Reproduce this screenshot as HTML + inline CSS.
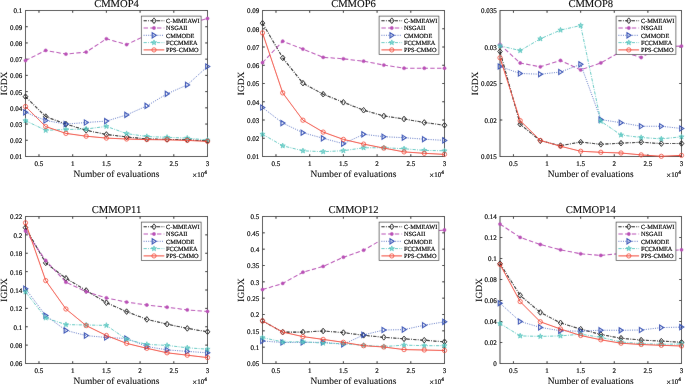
<!DOCTYPE html>
<html><head><meta charset="utf-8"><title>IGDX comparison</title>
<style>
html,body{margin:0;padding:0;background:#fff;}
body{width:685px;height:384px;overflow:hidden;}
svg{display:block;}
text{font-family:'Liberation Serif', 'Times New Roman', serif;fill:#111;stroke:#111;stroke-width:0.24px;text-rendering:geometricPrecision;}
.tk{font-size:7.0px;stroke-width:0.2px;}
.lb{font-size:9.4px;stroke-width:0.1px;}
.tt{font-size:10.6px;stroke-width:0.12px;}
.lg{font-size:6.3px;stroke-width:0.18px;}
</style></head><body>
<svg width="685" height="384" viewBox="0 0 685 384">
<defs><filter id="bl" x="0" y="0" width="100%" height="100%" filterUnits="userSpaceOnUse"><feConvolveMatrix order="3" kernelMatrix="0.0098 0.0366 0.0098 0.0366 0.8143 0.0366 0.0098 0.0366 0.0098" edgeMode="duplicate" preserveAlpha="true"/></filter></defs>
<rect width="685" height="384" fill="#fff"/>
<g filter="url(#bl)">
<rect width="685" height="384" fill="#fff"/>
<g><clipPath id="cCMMOP4"><rect x="21.5" y="6.5" width="190" height="154"/></clipPath><rect x="25.5" y="10.5" width="182" height="146" fill="none" stroke="#3d3d3d" stroke-width="1.0"/><path d="M38.98 156.5v-2.3M38.98 10.5v2.3M72.69 156.5v-2.3M72.69 10.5v2.3M106.39 156.5v-2.3M106.39 10.5v2.3M140.09 156.5v-2.3M140.09 10.5v2.3M173.8 156.5v-2.3M173.8 10.5v2.3M207.5 156.5v-2.3M207.5 10.5v2.3M25.5 156.5h2.3M207.5 156.5h-2.3M25.5 140.28h2.3M207.5 140.28h-2.3M25.5 124.06h2.3M207.5 124.06h-2.3M25.5 107.83h2.3M207.5 107.83h-2.3M25.5 91.61h2.3M207.5 91.61h-2.3M25.5 75.39h2.3M207.5 75.39h-2.3M25.5 59.17h2.3M207.5 59.17h-2.3M25.5 42.94h2.3M207.5 42.94h-2.3M25.5 26.72h2.3M207.5 26.72h-2.3M25.5 10.5h2.3M207.5 10.5h-2.3" stroke="#262626" stroke-width="1.0" fill="none"/><g clip-path="url(#cCMMOP4)"><polyline points="25.5,96.7 45.72,116.6 65.94,124.1 86.17,130.3 106.39,134.5 126.61,136.9 146.83,139 167.06,139.3 187.28,139.8 207.5,140.9" fill="none" stroke="#000000" stroke-width="1.05" stroke-dasharray="3.2 1.3 0.9 1.3" stroke-linejoin="round"/><path d="M25.5 93.9L27.8 96.7L25.5 99.5L23.2 96.7Z" fill="none" stroke="#000000" stroke-width="0.95"/><path d="M45.72 113.8L48.02 116.6L45.72 119.4L43.42 116.6Z" fill="none" stroke="#000000" stroke-width="0.95"/><path d="M65.94 121.3L68.24 124.1L65.94 126.9L63.64 124.1Z" fill="none" stroke="#000000" stroke-width="0.95"/><path d="M86.17 127.5L88.47 130.3L86.17 133.1L83.87 130.3Z" fill="none" stroke="#000000" stroke-width="0.95"/><path d="M106.39 131.7L108.69 134.5L106.39 137.3L104.09 134.5Z" fill="none" stroke="#000000" stroke-width="0.95"/><path d="M126.61 134.1L128.91 136.9L126.61 139.7L124.31 136.9Z" fill="none" stroke="#000000" stroke-width="0.95"/><path d="M146.83 136.2L149.13 139L146.83 141.8L144.53 139Z" fill="none" stroke="#000000" stroke-width="0.95"/><path d="M167.06 136.5L169.36 139.3L167.06 142.1L164.76 139.3Z" fill="none" stroke="#000000" stroke-width="0.95"/><path d="M187.28 137L189.58 139.8L187.28 142.6L184.98 139.8Z" fill="none" stroke="#000000" stroke-width="0.95"/><path d="M207.5 138.1L209.8 140.9L207.5 143.7L205.2 140.9Z" fill="none" stroke="#000000" stroke-width="0.95"/></g><g clip-path="url(#cCMMOP4)"><polyline points="25.5,60.6 45.72,50.4 65.94,54.1 86.17,52.1 106.39,38.8 126.61,44.6 146.83,35 167.06,29 187.28,24.4 207.5,18.5" fill="none" stroke="#b94cb6" stroke-width="1.05" stroke-dasharray="4.4 2.3" stroke-linejoin="round"/><circle cx="25.5" cy="60.6" r="1.65" fill="#b94cb6" stroke="#b94cb6" stroke-width="0.4"/><circle cx="45.72" cy="50.4" r="1.65" fill="#b94cb6" stroke="#b94cb6" stroke-width="0.4"/><circle cx="65.94" cy="54.1" r="1.65" fill="#b94cb6" stroke="#b94cb6" stroke-width="0.4"/><circle cx="86.17" cy="52.1" r="1.65" fill="#b94cb6" stroke="#b94cb6" stroke-width="0.4"/><circle cx="106.39" cy="38.8" r="1.65" fill="#b94cb6" stroke="#b94cb6" stroke-width="0.4"/><circle cx="126.61" cy="44.6" r="1.65" fill="#b94cb6" stroke="#b94cb6" stroke-width="0.4"/><circle cx="146.83" cy="35" r="1.65" fill="#b94cb6" stroke="#b94cb6" stroke-width="0.4"/><circle cx="167.06" cy="29" r="1.65" fill="#b94cb6" stroke="#b94cb6" stroke-width="0.4"/><circle cx="187.28" cy="24.4" r="1.65" fill="#b94cb6" stroke="#b94cb6" stroke-width="0.4"/><circle cx="207.5" cy="18.5" r="1.65" fill="#b94cb6" stroke="#b94cb6" stroke-width="0.4"/></g><g clip-path="url(#cCMMOP4)"><polyline points="25.5,112.3 45.72,120.5 65.94,124.1 86.17,122.5 106.39,121.1 126.61,114.9 146.83,105.9 167.06,93.8 187.28,84.9 207.5,66.5" fill="none" stroke="#2b4cb5" stroke-width="0.8" stroke-dasharray="1 1.3" stroke-linejoin="round"/><path d="M23.7 109.7L27.8 112.3L23.7 114.9Z" fill="none" stroke="#2b4cb5" stroke-width="1.1" stroke-linejoin="miter"/><path d="M43.92 117.9L48.02 120.5L43.92 123.1Z" fill="none" stroke="#2b4cb5" stroke-width="1.1" stroke-linejoin="miter"/><path d="M64.14 121.5L68.24 124.1L64.14 126.7Z" fill="none" stroke="#2b4cb5" stroke-width="1.1" stroke-linejoin="miter"/><path d="M84.37 119.9L88.47 122.5L84.37 125.1Z" fill="none" stroke="#2b4cb5" stroke-width="1.1" stroke-linejoin="miter"/><path d="M104.59 118.5L108.69 121.1L104.59 123.7Z" fill="none" stroke="#2b4cb5" stroke-width="1.1" stroke-linejoin="miter"/><path d="M124.81 112.3L128.91 114.9L124.81 117.5Z" fill="none" stroke="#2b4cb5" stroke-width="1.1" stroke-linejoin="miter"/><path d="M145.03 103.3L149.13 105.9L145.03 108.5Z" fill="none" stroke="#2b4cb5" stroke-width="1.1" stroke-linejoin="miter"/><path d="M165.26 91.2L169.36 93.8L165.26 96.4Z" fill="none" stroke="#2b4cb5" stroke-width="1.1" stroke-linejoin="miter"/><path d="M185.48 82.3L189.58 84.9L185.48 87.5Z" fill="none" stroke="#2b4cb5" stroke-width="1.1" stroke-linejoin="miter"/><path d="M205.7 63.9L209.8 66.5L205.7 69.1Z" fill="none" stroke="#2b4cb5" stroke-width="1.1" stroke-linejoin="miter"/></g><g clip-path="url(#cCMMOP4)"><polyline points="25.5,120.7 45.72,130.3 65.94,129.5 86.17,129 106.39,126.4 126.61,133.6 146.83,136.5 167.06,137.3 187.28,138.1 207.5,140.1" fill="none" stroke="#4cc3bc" stroke-width="0.9" stroke-dasharray="3.2 1.3 0.9 1.3" stroke-linejoin="round"/><polygon points="25.5,118 26.15,119.81 28.07,119.87 26.55,121.04 27.09,122.88 25.5,121.8 23.91,122.88 24.45,121.04 22.93,119.87 24.85,119.81" fill="#4cc3bc" fill-opacity="0.6" stroke="#4cc3bc" stroke-width="0.7"/><polygon points="45.72,127.6 46.37,129.41 48.29,129.47 46.77,130.64 47.31,132.48 45.72,131.4 44.14,132.48 44.68,130.64 43.15,129.47 45.08,129.41" fill="#4cc3bc" fill-opacity="0.6" stroke="#4cc3bc" stroke-width="0.7"/><polygon points="65.94,126.8 66.59,128.61 68.51,128.67 66.99,129.84 67.53,131.68 65.94,130.6 64.36,131.68 64.9,129.84 63.38,128.67 65.3,128.61" fill="#4cc3bc" fill-opacity="0.6" stroke="#4cc3bc" stroke-width="0.7"/><polygon points="86.17,126.3 86.81,128.11 88.73,128.17 87.21,129.34 87.75,131.18 86.17,130.1 84.58,131.18 85.12,129.34 83.6,128.17 85.52,128.11" fill="#4cc3bc" fill-opacity="0.6" stroke="#4cc3bc" stroke-width="0.7"/><polygon points="106.39,123.7 107.04,125.51 108.96,125.57 107.44,126.74 107.98,128.58 106.39,127.5 104.8,128.58 105.34,126.74 103.82,125.57 105.74,125.51" fill="#4cc3bc" fill-opacity="0.6" stroke="#4cc3bc" stroke-width="0.7"/><polygon points="126.61,130.9 127.26,132.71 129.18,132.77 127.66,133.94 128.2,135.78 126.61,134.7 125.02,135.78 125.56,133.94 124.04,132.77 125.96,132.71" fill="#4cc3bc" fill-opacity="0.6" stroke="#4cc3bc" stroke-width="0.7"/><polygon points="146.83,133.8 147.48,135.61 149.4,135.67 147.88,136.84 148.42,138.68 146.83,137.6 145.25,138.68 145.79,136.84 144.27,135.67 146.19,135.61" fill="#4cc3bc" fill-opacity="0.6" stroke="#4cc3bc" stroke-width="0.7"/><polygon points="167.06,134.6 167.7,136.41 169.62,136.47 168.1,137.64 168.64,139.48 167.06,138.4 165.47,139.48 166.01,137.64 164.49,136.47 166.41,136.41" fill="#4cc3bc" fill-opacity="0.6" stroke="#4cc3bc" stroke-width="0.7"/><polygon points="187.28,135.4 187.92,137.21 189.85,137.27 188.32,138.44 188.86,140.28 187.28,139.2 185.69,140.28 186.23,138.44 184.71,137.27 186.63,137.21" fill="#4cc3bc" fill-opacity="0.6" stroke="#4cc3bc" stroke-width="0.7"/><polygon points="207.5,137.4 208.15,139.21 210.07,139.27 208.55,140.44 209.09,142.28 207.5,141.2 205.91,142.28 206.45,140.44 204.93,139.27 206.85,139.21" fill="#4cc3bc" fill-opacity="0.6" stroke="#4cc3bc" stroke-width="0.7"/></g><g clip-path="url(#cCMMOP4)"><polyline points="25.5,106.5 45.72,126.6 65.94,133.4 86.17,136.2 106.39,138.1 126.61,139 146.83,139.6 167.06,139.8 187.28,140.4 207.5,141.4" fill="none" stroke="#f2412f" stroke-width="1.0" stroke-linejoin="round"/><circle cx="25.5" cy="106.5" r="2.15" fill="none" stroke="#f2412f" stroke-width="0.8"/><circle cx="45.72" cy="126.6" r="2.15" fill="none" stroke="#f2412f" stroke-width="0.8"/><circle cx="65.94" cy="133.4" r="2.15" fill="none" stroke="#f2412f" stroke-width="0.8"/><circle cx="86.17" cy="136.2" r="2.15" fill="none" stroke="#f2412f" stroke-width="0.8"/><circle cx="106.39" cy="138.1" r="2.15" fill="none" stroke="#f2412f" stroke-width="0.8"/><circle cx="126.61" cy="139" r="2.15" fill="none" stroke="#f2412f" stroke-width="0.8"/><circle cx="146.83" cy="139.6" r="2.15" fill="none" stroke="#f2412f" stroke-width="0.8"/><circle cx="167.06" cy="139.8" r="2.15" fill="none" stroke="#f2412f" stroke-width="0.8"/><circle cx="187.28" cy="140.4" r="2.15" fill="none" stroke="#f2412f" stroke-width="0.8"/><circle cx="207.5" cy="141.4" r="2.15" fill="none" stroke="#f2412f" stroke-width="0.8"/></g><rect x="141.3" y="16.1" width="59.8" height="38.4" fill="#fff" stroke="#3d3d3d" stroke-width="0.7"/><line x1="143.6" y1="20.7" x2="164.3" y2="20.7" stroke="#000000" stroke-width="1.05" stroke-dasharray="3.2 1.3 0.9 1.3"/><path d="M154 17.9L156.3 20.7L154 23.5L151.7 20.7Z" fill="none" stroke="#000000" stroke-width="0.95"/><line x1="143.6" y1="28" x2="164.3" y2="28" stroke="#b94cb6" stroke-width="1.05" stroke-dasharray="4.4 2.3"/><circle cx="154" cy="28" r="1.65" fill="#b94cb6" stroke="#b94cb6" stroke-width="0.4"/><line x1="143.6" y1="35.3" x2="164.3" y2="35.3" stroke="#2b4cb5" stroke-width="0.8" stroke-dasharray="1 1.3"/><path d="M152.2 32.7L156.3 35.3L152.2 37.9Z" fill="none" stroke="#2b4cb5" stroke-width="1.1" stroke-linejoin="miter"/><line x1="143.6" y1="42.6" x2="164.3" y2="42.6" stroke="#4cc3bc" stroke-width="0.9" stroke-dasharray="3.2 1.3 0.9 1.3"/><polygon points="154,39.9 154.65,41.71 156.57,41.77 155.05,42.94 155.59,44.78 154,43.7 152.41,44.78 152.95,42.94 151.43,41.77 153.35,41.71" fill="#4cc3bc" fill-opacity="0.6" stroke="#4cc3bc" stroke-width="0.7"/><line x1="143.6" y1="49.9" x2="164.3" y2="49.9" stroke="#f2412f" stroke-width="1.0"/><circle cx="154" cy="49.9" r="2.15" fill="none" stroke="#f2412f" stroke-width="0.8"/></g>
<g><clipPath id="cCMMOP6"><rect x="258.5" y="6.5" width="190" height="154"/></clipPath><rect x="262.5" y="10.5" width="182" height="146" fill="none" stroke="#3d3d3d" stroke-width="1.0"/><path d="M275.98 156.5v-2.3M275.98 10.5v2.3M309.69 156.5v-2.3M309.69 10.5v2.3M343.39 156.5v-2.3M343.39 10.5v2.3M377.09 156.5v-2.3M377.09 10.5v2.3M410.8 156.5v-2.3M410.8 10.5v2.3M444.5 156.5v-2.3M444.5 10.5v2.3M262.5 156.5h2.3M444.5 156.5h-2.3M262.5 138.25h2.3M444.5 138.25h-2.3M262.5 120h2.3M444.5 120h-2.3M262.5 101.75h2.3M444.5 101.75h-2.3M262.5 83.5h2.3M444.5 83.5h-2.3M262.5 65.25h2.3M444.5 65.25h-2.3M262.5 47h2.3M444.5 47h-2.3M262.5 28.75h2.3M444.5 28.75h-2.3M262.5 10.5h2.3M444.5 10.5h-2.3" stroke="#262626" stroke-width="1.0" fill="none"/><g clip-path="url(#cCMMOP6)"><polyline points="262.5,23.1 282.72,57.9 302.94,83.2 323.17,94.2 343.39,102.3 363.61,110.2 383.83,116 404.06,119 424.28,122.5 444.5,125.2" fill="none" stroke="#000000" stroke-width="1.05" stroke-dasharray="3.2 1.3 0.9 1.3" stroke-linejoin="round"/><path d="M262.5 20.3L264.8 23.1L262.5 25.9L260.2 23.1Z" fill="none" stroke="#000000" stroke-width="0.95"/><path d="M282.72 55.1L285.02 57.9L282.72 60.7L280.42 57.9Z" fill="none" stroke="#000000" stroke-width="0.95"/><path d="M302.94 80.4L305.24 83.2L302.94 86L300.64 83.2Z" fill="none" stroke="#000000" stroke-width="0.95"/><path d="M323.17 91.4L325.47 94.2L323.17 97L320.87 94.2Z" fill="none" stroke="#000000" stroke-width="0.95"/><path d="M343.39 99.5L345.69 102.3L343.39 105.1L341.09 102.3Z" fill="none" stroke="#000000" stroke-width="0.95"/><path d="M363.61 107.4L365.91 110.2L363.61 113L361.31 110.2Z" fill="none" stroke="#000000" stroke-width="0.95"/><path d="M383.83 113.2L386.13 116L383.83 118.8L381.53 116Z" fill="none" stroke="#000000" stroke-width="0.95"/><path d="M404.06 116.2L406.36 119L404.06 121.8L401.76 119Z" fill="none" stroke="#000000" stroke-width="0.95"/><path d="M424.28 119.7L426.58 122.5L424.28 125.3L421.98 122.5Z" fill="none" stroke="#000000" stroke-width="0.95"/><path d="M444.5 122.4L446.8 125.2L444.5 128L442.2 125.2Z" fill="none" stroke="#000000" stroke-width="0.95"/></g><g clip-path="url(#cCMMOP6)"><polyline points="262.5,62.7 282.72,41.25 302.94,49.1 323.17,57.3 343.39,58.8 363.61,61.2 383.83,65.1 404.06,68.2 424.28,68.2 444.5,68.2" fill="none" stroke="#b94cb6" stroke-width="1.05" stroke-dasharray="4.4 2.3" stroke-linejoin="round"/><circle cx="262.5" cy="62.7" r="1.65" fill="#b94cb6" stroke="#b94cb6" stroke-width="0.4"/><circle cx="282.72" cy="41.25" r="1.65" fill="#b94cb6" stroke="#b94cb6" stroke-width="0.4"/><circle cx="302.94" cy="49.1" r="1.65" fill="#b94cb6" stroke="#b94cb6" stroke-width="0.4"/><circle cx="323.17" cy="57.3" r="1.65" fill="#b94cb6" stroke="#b94cb6" stroke-width="0.4"/><circle cx="343.39" cy="58.8" r="1.65" fill="#b94cb6" stroke="#b94cb6" stroke-width="0.4"/><circle cx="363.61" cy="61.2" r="1.65" fill="#b94cb6" stroke="#b94cb6" stroke-width="0.4"/><circle cx="383.83" cy="65.1" r="1.65" fill="#b94cb6" stroke="#b94cb6" stroke-width="0.4"/><circle cx="404.06" cy="68.2" r="1.65" fill="#b94cb6" stroke="#b94cb6" stroke-width="0.4"/><circle cx="424.28" cy="68.2" r="1.65" fill="#b94cb6" stroke="#b94cb6" stroke-width="0.4"/><circle cx="444.5" cy="68.2" r="1.65" fill="#b94cb6" stroke="#b94cb6" stroke-width="0.4"/></g><g clip-path="url(#cCMMOP6)"><polyline points="262.5,107.5 282.72,123.1 302.94,132.7 323.17,138.3 343.39,143.7 363.61,134.3 383.83,136.7 404.06,137.7 424.28,139.2 444.5,140.4" fill="none" stroke="#2b4cb5" stroke-width="0.8" stroke-dasharray="1 1.3" stroke-linejoin="round"/><path d="M260.7 104.9L264.8 107.5L260.7 110.1Z" fill="none" stroke="#2b4cb5" stroke-width="1.1" stroke-linejoin="miter"/><path d="M280.92 120.5L285.02 123.1L280.92 125.7Z" fill="none" stroke="#2b4cb5" stroke-width="1.1" stroke-linejoin="miter"/><path d="M301.14 130.1L305.24 132.7L301.14 135.3Z" fill="none" stroke="#2b4cb5" stroke-width="1.1" stroke-linejoin="miter"/><path d="M321.37 135.7L325.47 138.3L321.37 140.9Z" fill="none" stroke="#2b4cb5" stroke-width="1.1" stroke-linejoin="miter"/><path d="M341.59 141.1L345.69 143.7L341.59 146.3Z" fill="none" stroke="#2b4cb5" stroke-width="1.1" stroke-linejoin="miter"/><path d="M361.81 131.7L365.91 134.3L361.81 136.9Z" fill="none" stroke="#2b4cb5" stroke-width="1.1" stroke-linejoin="miter"/><path d="M382.03 134.1L386.13 136.7L382.03 139.3Z" fill="none" stroke="#2b4cb5" stroke-width="1.1" stroke-linejoin="miter"/><path d="M402.26 135.1L406.36 137.7L402.26 140.3Z" fill="none" stroke="#2b4cb5" stroke-width="1.1" stroke-linejoin="miter"/><path d="M422.48 136.6L426.58 139.2L422.48 141.8Z" fill="none" stroke="#2b4cb5" stroke-width="1.1" stroke-linejoin="miter"/><path d="M442.7 137.8L446.8 140.4L442.7 143Z" fill="none" stroke="#2b4cb5" stroke-width="1.1" stroke-linejoin="miter"/></g><g clip-path="url(#cCMMOP6)"><polyline points="262.5,134.2 282.72,145.8 302.94,150.8 323.17,151.7 343.39,150.7 363.61,147.8 383.83,147.7 404.06,148.75 424.28,150.4 444.5,150.8" fill="none" stroke="#4cc3bc" stroke-width="0.9" stroke-dasharray="3.2 1.3 0.9 1.3" stroke-linejoin="round"/><polygon points="262.5,131.5 263.15,133.31 265.07,133.37 263.55,134.54 264.09,136.38 262.5,135.3 260.91,136.38 261.45,134.54 259.93,133.37 261.85,133.31" fill="#4cc3bc" fill-opacity="0.6" stroke="#4cc3bc" stroke-width="0.7"/><polygon points="282.72,143.1 283.37,144.91 285.29,144.97 283.77,146.14 284.31,147.98 282.72,146.9 281.14,147.98 281.68,146.14 280.15,144.97 282.08,144.91" fill="#4cc3bc" fill-opacity="0.6" stroke="#4cc3bc" stroke-width="0.7"/><polygon points="302.94,148.1 303.59,149.91 305.51,149.97 303.99,151.14 304.53,152.98 302.94,151.9 301.36,152.98 301.9,151.14 300.38,149.97 302.3,149.91" fill="#4cc3bc" fill-opacity="0.6" stroke="#4cc3bc" stroke-width="0.7"/><polygon points="323.17,149 323.81,150.81 325.73,150.87 324.21,152.04 324.75,153.88 323.17,152.8 321.58,153.88 322.12,152.04 320.6,150.87 322.52,150.81" fill="#4cc3bc" fill-opacity="0.6" stroke="#4cc3bc" stroke-width="0.7"/><polygon points="343.39,148 344.04,149.81 345.96,149.87 344.44,151.04 344.98,152.88 343.39,151.8 341.8,152.88 342.34,151.04 340.82,149.87 342.74,149.81" fill="#4cc3bc" fill-opacity="0.6" stroke="#4cc3bc" stroke-width="0.7"/><polygon points="363.61,145.1 364.26,146.91 366.18,146.97 364.66,148.14 365.2,149.98 363.61,148.9 362.02,149.98 362.56,148.14 361.04,146.97 362.96,146.91" fill="#4cc3bc" fill-opacity="0.6" stroke="#4cc3bc" stroke-width="0.7"/><polygon points="383.83,145 384.48,146.81 386.4,146.87 384.88,148.04 385.42,149.88 383.83,148.8 382.25,149.88 382.79,148.04 381.27,146.87 383.19,146.81" fill="#4cc3bc" fill-opacity="0.6" stroke="#4cc3bc" stroke-width="0.7"/><polygon points="404.06,146.05 404.7,147.86 406.62,147.92 405.1,149.09 405.64,150.93 404.06,149.85 402.47,150.93 403.01,149.09 401.49,147.92 403.41,147.86" fill="#4cc3bc" fill-opacity="0.6" stroke="#4cc3bc" stroke-width="0.7"/><polygon points="424.28,147.7 424.92,149.51 426.85,149.57 425.32,150.74 425.86,152.58 424.28,151.5 422.69,152.58 423.23,150.74 421.71,149.57 423.63,149.51" fill="#4cc3bc" fill-opacity="0.6" stroke="#4cc3bc" stroke-width="0.7"/><polygon points="444.5,148.1 445.15,149.91 447.07,149.97 445.55,151.14 446.09,152.98 444.5,151.9 442.91,152.98 443.45,151.14 441.93,149.97 443.85,149.91" fill="#4cc3bc" fill-opacity="0.6" stroke="#4cc3bc" stroke-width="0.7"/></g><g clip-path="url(#cCMMOP6)"><polyline points="262.5,32.9 282.72,92.9 302.94,120.2 323.17,132.1 343.39,139.4 363.61,144.1 383.83,148.1 404.06,151.9 424.28,153.3 444.5,154.4" fill="none" stroke="#f2412f" stroke-width="1.0" stroke-linejoin="round"/><circle cx="262.5" cy="32.9" r="2.15" fill="none" stroke="#f2412f" stroke-width="0.8"/><circle cx="282.72" cy="92.9" r="2.15" fill="none" stroke="#f2412f" stroke-width="0.8"/><circle cx="302.94" cy="120.2" r="2.15" fill="none" stroke="#f2412f" stroke-width="0.8"/><circle cx="323.17" cy="132.1" r="2.15" fill="none" stroke="#f2412f" stroke-width="0.8"/><circle cx="343.39" cy="139.4" r="2.15" fill="none" stroke="#f2412f" stroke-width="0.8"/><circle cx="363.61" cy="144.1" r="2.15" fill="none" stroke="#f2412f" stroke-width="0.8"/><circle cx="383.83" cy="148.1" r="2.15" fill="none" stroke="#f2412f" stroke-width="0.8"/><circle cx="404.06" cy="151.9" r="2.15" fill="none" stroke="#f2412f" stroke-width="0.8"/><circle cx="424.28" cy="153.3" r="2.15" fill="none" stroke="#f2412f" stroke-width="0.8"/><circle cx="444.5" cy="154.4" r="2.15" fill="none" stroke="#f2412f" stroke-width="0.8"/></g><rect x="379.1" y="16.1" width="59.8" height="38.4" fill="#fff" stroke="#3d3d3d" stroke-width="0.7"/><line x1="381.4" y1="20.7" x2="402.1" y2="20.7" stroke="#000000" stroke-width="1.05" stroke-dasharray="3.2 1.3 0.9 1.3"/><path d="M391.8 17.9L394.1 20.7L391.8 23.5L389.5 20.7Z" fill="none" stroke="#000000" stroke-width="0.95"/><line x1="381.4" y1="28" x2="402.1" y2="28" stroke="#b94cb6" stroke-width="1.05" stroke-dasharray="4.4 2.3"/><circle cx="391.8" cy="28" r="1.65" fill="#b94cb6" stroke="#b94cb6" stroke-width="0.4"/><line x1="381.4" y1="35.3" x2="402.1" y2="35.3" stroke="#2b4cb5" stroke-width="0.8" stroke-dasharray="1 1.3"/><path d="M390 32.7L394.1 35.3L390 37.9Z" fill="none" stroke="#2b4cb5" stroke-width="1.1" stroke-linejoin="miter"/><line x1="381.4" y1="42.6" x2="402.1" y2="42.6" stroke="#4cc3bc" stroke-width="0.9" stroke-dasharray="3.2 1.3 0.9 1.3"/><polygon points="391.8,39.9 392.45,41.71 394.37,41.77 392.85,42.94 393.39,44.78 391.8,43.7 390.21,44.78 390.75,42.94 389.23,41.77 391.15,41.71" fill="#4cc3bc" fill-opacity="0.6" stroke="#4cc3bc" stroke-width="0.7"/><line x1="381.4" y1="49.9" x2="402.1" y2="49.9" stroke="#f2412f" stroke-width="1.0"/><circle cx="391.8" cy="49.9" r="2.15" fill="none" stroke="#f2412f" stroke-width="0.8"/></g>
<g><clipPath id="cCMMOP8"><rect x="496" y="6.5" width="189.5" height="154"/></clipPath><rect x="500" y="10.5" width="181.5" height="146" fill="none" stroke="#3d3d3d" stroke-width="1.0"/><path d="M513.44 156.5v-2.3M513.44 10.5v2.3M547.06 156.5v-2.3M547.06 10.5v2.3M580.67 156.5v-2.3M580.67 10.5v2.3M614.28 156.5v-2.3M614.28 10.5v2.3M647.89 156.5v-2.3M647.89 10.5v2.3M681.5 156.5v-2.3M681.5 10.5v2.3M500 156.5h2.3M681.5 156.5h-2.3M500 120h2.3M681.5 120h-2.3M500 83.5h2.3M681.5 83.5h-2.3M500 47h2.3M681.5 47h-2.3M500 10.5h2.3M681.5 10.5h-2.3" stroke="#262626" stroke-width="1.0" fill="none"/><g clip-path="url(#cCMMOP8)"><polyline points="500,51.5 520.17,124.2 540.33,140.8 560.5,145.6 580.67,142.1 600.83,144.3 621,143.2 641.17,142.2 661.33,143.6 681.5,143.5" fill="none" stroke="#000000" stroke-width="1.05" stroke-dasharray="3.2 1.3 0.9 1.3" stroke-linejoin="round"/><path d="M500 48.7L502.3 51.5L500 54.3L497.7 51.5Z" fill="none" stroke="#000000" stroke-width="0.95"/><path d="M520.17 121.4L522.47 124.2L520.17 127L517.87 124.2Z" fill="none" stroke="#000000" stroke-width="0.95"/><path d="M540.33 138L542.63 140.8L540.33 143.6L538.03 140.8Z" fill="none" stroke="#000000" stroke-width="0.95"/><path d="M560.5 142.8L562.8 145.6L560.5 148.4L558.2 145.6Z" fill="none" stroke="#000000" stroke-width="0.95"/><path d="M580.67 139.3L582.97 142.1L580.67 144.9L578.37 142.1Z" fill="none" stroke="#000000" stroke-width="0.95"/><path d="M600.83 141.5L603.13 144.3L600.83 147.1L598.53 144.3Z" fill="none" stroke="#000000" stroke-width="0.95"/><path d="M621 140.4L623.3 143.2L621 146L618.7 143.2Z" fill="none" stroke="#000000" stroke-width="0.95"/><path d="M641.17 139.4L643.47 142.2L641.17 145L638.87 142.2Z" fill="none" stroke="#000000" stroke-width="0.95"/><path d="M661.33 140.8L663.63 143.6L661.33 146.4L659.03 143.6Z" fill="none" stroke="#000000" stroke-width="0.95"/><path d="M681.5 140.7L683.8 143.5L681.5 146.3L679.2 143.5Z" fill="none" stroke="#000000" stroke-width="0.95"/></g><g clip-path="url(#cCMMOP8)"><polyline points="500,44.5 520.17,63 540.33,66.8 560.5,60.5 580.67,69.9 600.83,62.9 621,51.5 641.17,57.5 661.33,46.3 681.5,46.1" fill="none" stroke="#b94cb6" stroke-width="1.05" stroke-dasharray="4.4 2.3" stroke-linejoin="round"/><circle cx="500" cy="44.5" r="1.65" fill="#b94cb6" stroke="#b94cb6" stroke-width="0.4"/><circle cx="520.17" cy="63" r="1.65" fill="#b94cb6" stroke="#b94cb6" stroke-width="0.4"/><circle cx="540.33" cy="66.8" r="1.65" fill="#b94cb6" stroke="#b94cb6" stroke-width="0.4"/><circle cx="560.5" cy="60.5" r="1.65" fill="#b94cb6" stroke="#b94cb6" stroke-width="0.4"/><circle cx="580.67" cy="69.9" r="1.65" fill="#b94cb6" stroke="#b94cb6" stroke-width="0.4"/><circle cx="600.83" cy="62.9" r="1.65" fill="#b94cb6" stroke="#b94cb6" stroke-width="0.4"/><circle cx="621" cy="51.5" r="1.65" fill="#b94cb6" stroke="#b94cb6" stroke-width="0.4"/><circle cx="641.17" cy="57.5" r="1.65" fill="#b94cb6" stroke="#b94cb6" stroke-width="0.4"/><circle cx="661.33" cy="46.3" r="1.65" fill="#b94cb6" stroke="#b94cb6" stroke-width="0.4"/><circle cx="681.5" cy="46.1" r="1.65" fill="#b94cb6" stroke="#b94cb6" stroke-width="0.4"/></g><g clip-path="url(#cCMMOP8)"><polyline points="500,66.5 520.17,73.5 540.33,74.2 560.5,72 580.67,64.3 600.83,119.6 621,122.7 641.17,126.25 661.33,126.25 681.5,128.5" fill="none" stroke="#2b4cb5" stroke-width="0.8" stroke-dasharray="1 1.3" stroke-linejoin="round"/><path d="M498.2 63.9L502.3 66.5L498.2 69.1Z" fill="none" stroke="#2b4cb5" stroke-width="1.1" stroke-linejoin="miter"/><path d="M518.37 70.9L522.47 73.5L518.37 76.1Z" fill="none" stroke="#2b4cb5" stroke-width="1.1" stroke-linejoin="miter"/><path d="M538.53 71.6L542.63 74.2L538.53 76.8Z" fill="none" stroke="#2b4cb5" stroke-width="1.1" stroke-linejoin="miter"/><path d="M558.7 69.4L562.8 72L558.7 74.6Z" fill="none" stroke="#2b4cb5" stroke-width="1.1" stroke-linejoin="miter"/><path d="M578.87 61.7L582.97 64.3L578.87 66.9Z" fill="none" stroke="#2b4cb5" stroke-width="1.1" stroke-linejoin="miter"/><path d="M599.03 117L603.13 119.6L599.03 122.2Z" fill="none" stroke="#2b4cb5" stroke-width="1.1" stroke-linejoin="miter"/><path d="M619.2 120.1L623.3 122.7L619.2 125.3Z" fill="none" stroke="#2b4cb5" stroke-width="1.1" stroke-linejoin="miter"/><path d="M639.37 123.65L643.47 126.25L639.37 128.85Z" fill="none" stroke="#2b4cb5" stroke-width="1.1" stroke-linejoin="miter"/><path d="M659.53 123.65L663.63 126.25L659.53 128.85Z" fill="none" stroke="#2b4cb5" stroke-width="1.1" stroke-linejoin="miter"/><path d="M679.7 125.9L683.8 128.5L679.7 131.1Z" fill="none" stroke="#2b4cb5" stroke-width="1.1" stroke-linejoin="miter"/></g><g clip-path="url(#cCMMOP8)"><polyline points="500,45.8 520.17,50.6 540.33,38.8 560.5,30.1 580.67,25.5 600.83,121.25 621,135 641.17,137.5 661.33,138.9 681.5,136.8" fill="none" stroke="#4cc3bc" stroke-width="0.9" stroke-dasharray="3.2 1.3 0.9 1.3" stroke-linejoin="round"/><polygon points="500,43.1 500.65,44.91 502.57,44.97 501.05,46.14 501.59,47.98 500,46.9 498.41,47.98 498.95,46.14 497.43,44.97 499.35,44.91" fill="#4cc3bc" fill-opacity="0.6" stroke="#4cc3bc" stroke-width="0.7"/><polygon points="520.17,47.9 520.81,49.71 522.73,49.77 521.21,50.94 521.75,52.78 520.17,51.7 518.58,52.78 519.12,50.94 517.6,49.77 519.52,49.71" fill="#4cc3bc" fill-opacity="0.6" stroke="#4cc3bc" stroke-width="0.7"/><polygon points="540.33,36.1 540.98,37.91 542.9,37.97 541.38,39.14 541.92,40.98 540.33,39.9 538.75,40.98 539.29,39.14 537.77,37.97 539.69,37.91" fill="#4cc3bc" fill-opacity="0.6" stroke="#4cc3bc" stroke-width="0.7"/><polygon points="560.5,27.4 561.15,29.21 563.07,29.27 561.55,30.44 562.09,32.28 560.5,31.2 558.91,32.28 559.45,30.44 557.93,29.27 559.85,29.21" fill="#4cc3bc" fill-opacity="0.6" stroke="#4cc3bc" stroke-width="0.7"/><polygon points="580.67,22.8 581.31,24.61 583.23,24.67 581.71,25.84 582.25,27.68 580.67,26.6 579.08,27.68 579.62,25.84 578.1,24.67 580.02,24.61" fill="#4cc3bc" fill-opacity="0.6" stroke="#4cc3bc" stroke-width="0.7"/><polygon points="600.83,118.55 601.48,120.36 603.4,120.42 601.88,121.59 602.42,123.43 600.83,122.35 599.25,123.43 599.79,121.59 598.27,120.42 600.19,120.36" fill="#4cc3bc" fill-opacity="0.6" stroke="#4cc3bc" stroke-width="0.7"/><polygon points="621,132.3 621.65,134.11 623.57,134.17 622.05,135.34 622.59,137.18 621,136.1 619.41,137.18 619.95,135.34 618.43,134.17 620.35,134.11" fill="#4cc3bc" fill-opacity="0.6" stroke="#4cc3bc" stroke-width="0.7"/><polygon points="641.17,134.8 641.81,136.61 643.73,136.67 642.21,137.84 642.75,139.68 641.17,138.6 639.58,139.68 640.12,137.84 638.6,136.67 640.52,136.61" fill="#4cc3bc" fill-opacity="0.6" stroke="#4cc3bc" stroke-width="0.7"/><polygon points="661.33,136.2 661.98,138.01 663.9,138.07 662.38,139.24 662.92,141.08 661.33,140 659.75,141.08 660.29,139.24 658.77,138.07 660.69,138.01" fill="#4cc3bc" fill-opacity="0.6" stroke="#4cc3bc" stroke-width="0.7"/><polygon points="681.5,134.1 682.15,135.91 684.07,135.97 682.55,137.14 683.09,138.98 681.5,137.9 679.91,138.98 680.45,137.14 678.93,135.97 680.85,135.91" fill="#4cc3bc" fill-opacity="0.6" stroke="#4cc3bc" stroke-width="0.7"/></g><g clip-path="url(#cCMMOP8)"><polyline points="500,57.8 520.17,120.6 540.33,140.4 560.5,146.25 580.67,151.25 600.83,152.3 621,153 641.17,154.9 661.33,156.3 681.5,155.4" fill="none" stroke="#f2412f" stroke-width="1.0" stroke-linejoin="round"/><circle cx="500" cy="57.8" r="2.15" fill="none" stroke="#f2412f" stroke-width="0.8"/><circle cx="520.17" cy="120.6" r="2.15" fill="none" stroke="#f2412f" stroke-width="0.8"/><circle cx="540.33" cy="140.4" r="2.15" fill="none" stroke="#f2412f" stroke-width="0.8"/><circle cx="560.5" cy="146.25" r="2.15" fill="none" stroke="#f2412f" stroke-width="0.8"/><circle cx="580.67" cy="151.25" r="2.15" fill="none" stroke="#f2412f" stroke-width="0.8"/><circle cx="600.83" cy="152.3" r="2.15" fill="none" stroke="#f2412f" stroke-width="0.8"/><circle cx="621" cy="153" r="2.15" fill="none" stroke="#f2412f" stroke-width="0.8"/><circle cx="641.17" cy="154.9" r="2.15" fill="none" stroke="#f2412f" stroke-width="0.8"/><circle cx="661.33" cy="156.3" r="2.15" fill="none" stroke="#f2412f" stroke-width="0.8"/><circle cx="681.5" cy="155.4" r="2.15" fill="none" stroke="#f2412f" stroke-width="0.8"/></g><rect x="616.1" y="16.1" width="59.8" height="38.4" fill="#fff" stroke="#3d3d3d" stroke-width="0.7"/><line x1="618.4" y1="20.7" x2="639.1" y2="20.7" stroke="#000000" stroke-width="1.05" stroke-dasharray="3.2 1.3 0.9 1.3"/><path d="M628.8 17.9L631.1 20.7L628.8 23.5L626.5 20.7Z" fill="none" stroke="#000000" stroke-width="0.95"/><line x1="618.4" y1="28" x2="639.1" y2="28" stroke="#b94cb6" stroke-width="1.05" stroke-dasharray="4.4 2.3"/><circle cx="628.8" cy="28" r="1.65" fill="#b94cb6" stroke="#b94cb6" stroke-width="0.4"/><line x1="618.4" y1="35.3" x2="639.1" y2="35.3" stroke="#2b4cb5" stroke-width="0.8" stroke-dasharray="1 1.3"/><path d="M627 32.7L631.1 35.3L627 37.9Z" fill="none" stroke="#2b4cb5" stroke-width="1.1" stroke-linejoin="miter"/><line x1="618.4" y1="42.6" x2="639.1" y2="42.6" stroke="#4cc3bc" stroke-width="0.9" stroke-dasharray="3.2 1.3 0.9 1.3"/><polygon points="628.8,39.9 629.45,41.71 631.37,41.77 629.85,42.94 630.39,44.78 628.8,43.7 627.21,44.78 627.75,42.94 626.23,41.77 628.15,41.71" fill="#4cc3bc" fill-opacity="0.6" stroke="#4cc3bc" stroke-width="0.7"/><line x1="618.4" y1="49.9" x2="639.1" y2="49.9" stroke="#f2412f" stroke-width="1.0"/><circle cx="628.8" cy="49.9" r="2.15" fill="none" stroke="#f2412f" stroke-width="0.8"/></g>
<g><clipPath id="cCMMOP11"><rect x="21.5" y="212.5" width="190" height="155"/></clipPath><rect x="25.5" y="216.5" width="182" height="147" fill="none" stroke="#3d3d3d" stroke-width="1.0"/><path d="M38.98 363.5v-2.3M38.98 216.5v2.3M72.69 363.5v-2.3M72.69 216.5v2.3M106.39 363.5v-2.3M106.39 216.5v2.3M140.09 363.5v-2.3M140.09 216.5v2.3M173.8 363.5v-2.3M173.8 216.5v2.3M207.5 363.5v-2.3M207.5 216.5v2.3M25.5 363.5h2.3M207.5 363.5h-2.3M25.5 345.12h2.3M207.5 345.12h-2.3M25.5 326.75h2.3M207.5 326.75h-2.3M25.5 308.38h2.3M207.5 308.38h-2.3M25.5 290h2.3M207.5 290h-2.3M25.5 271.62h2.3M207.5 271.62h-2.3M25.5 253.25h2.3M207.5 253.25h-2.3M25.5 234.87h2.3M207.5 234.87h-2.3M25.5 216.5h2.3M207.5 216.5h-2.3" stroke="#262626" stroke-width="1.0" fill="none"/><g clip-path="url(#cCMMOP11)"><polyline points="25.5,227.7 45.72,262.9 65.94,278.3 86.17,290.5 106.39,302.7 126.61,311.6 146.83,319.4 167.06,324.2 187.28,328.4 207.5,331.8" fill="none" stroke="#000000" stroke-width="1.05" stroke-dasharray="3.2 1.3 0.9 1.3" stroke-linejoin="round"/><path d="M25.5 224.9L27.8 227.7L25.5 230.5L23.2 227.7Z" fill="none" stroke="#000000" stroke-width="0.95"/><path d="M45.72 260.1L48.02 262.9L45.72 265.7L43.42 262.9Z" fill="none" stroke="#000000" stroke-width="0.95"/><path d="M65.94 275.5L68.24 278.3L65.94 281.1L63.64 278.3Z" fill="none" stroke="#000000" stroke-width="0.95"/><path d="M86.17 287.7L88.47 290.5L86.17 293.3L83.87 290.5Z" fill="none" stroke="#000000" stroke-width="0.95"/><path d="M106.39 299.9L108.69 302.7L106.39 305.5L104.09 302.7Z" fill="none" stroke="#000000" stroke-width="0.95"/><path d="M126.61 308.8L128.91 311.6L126.61 314.4L124.31 311.6Z" fill="none" stroke="#000000" stroke-width="0.95"/><path d="M146.83 316.6L149.13 319.4L146.83 322.2L144.53 319.4Z" fill="none" stroke="#000000" stroke-width="0.95"/><path d="M167.06 321.4L169.36 324.2L167.06 327L164.76 324.2Z" fill="none" stroke="#000000" stroke-width="0.95"/><path d="M187.28 325.6L189.58 328.4L187.28 331.2L184.98 328.4Z" fill="none" stroke="#000000" stroke-width="0.95"/><path d="M207.5 329L209.8 331.8L207.5 334.6L205.2 331.8Z" fill="none" stroke="#000000" stroke-width="0.95"/></g><g clip-path="url(#cCMMOP11)"><polyline points="25.5,231 45.72,260.5 65.94,282.2 86.17,291.7 106.39,297.9 126.61,302.1 146.83,305 167.06,307.2 187.28,309.9 207.5,311.4" fill="none" stroke="#b94cb6" stroke-width="1.05" stroke-dasharray="4.4 2.3" stroke-linejoin="round"/><circle cx="25.5" cy="231" r="1.65" fill="#b94cb6" stroke="#b94cb6" stroke-width="0.4"/><circle cx="45.72" cy="260.5" r="1.65" fill="#b94cb6" stroke="#b94cb6" stroke-width="0.4"/><circle cx="65.94" cy="282.2" r="1.65" fill="#b94cb6" stroke="#b94cb6" stroke-width="0.4"/><circle cx="86.17" cy="291.7" r="1.65" fill="#b94cb6" stroke="#b94cb6" stroke-width="0.4"/><circle cx="106.39" cy="297.9" r="1.65" fill="#b94cb6" stroke="#b94cb6" stroke-width="0.4"/><circle cx="126.61" cy="302.1" r="1.65" fill="#b94cb6" stroke="#b94cb6" stroke-width="0.4"/><circle cx="146.83" cy="305" r="1.65" fill="#b94cb6" stroke="#b94cb6" stroke-width="0.4"/><circle cx="167.06" cy="307.2" r="1.65" fill="#b94cb6" stroke="#b94cb6" stroke-width="0.4"/><circle cx="187.28" cy="309.9" r="1.65" fill="#b94cb6" stroke="#b94cb6" stroke-width="0.4"/><circle cx="207.5" cy="311.4" r="1.65" fill="#b94cb6" stroke="#b94cb6" stroke-width="0.4"/></g><g clip-path="url(#cCMMOP11)"><polyline points="25.5,288.7 45.72,315.6 65.94,330.4 86.17,335.6 106.39,337.5 126.61,338.5 146.83,346.5 167.06,349.9 187.28,351.4 207.5,352.8" fill="none" stroke="#2b4cb5" stroke-width="0.8" stroke-dasharray="1 1.3" stroke-linejoin="round"/><path d="M23.7 286.1L27.8 288.7L23.7 291.3Z" fill="none" stroke="#2b4cb5" stroke-width="1.1" stroke-linejoin="miter"/><path d="M43.92 313L48.02 315.6L43.92 318.2Z" fill="none" stroke="#2b4cb5" stroke-width="1.1" stroke-linejoin="miter"/><path d="M64.14 327.8L68.24 330.4L64.14 333Z" fill="none" stroke="#2b4cb5" stroke-width="1.1" stroke-linejoin="miter"/><path d="M84.37 333L88.47 335.6L84.37 338.2Z" fill="none" stroke="#2b4cb5" stroke-width="1.1" stroke-linejoin="miter"/><path d="M104.59 334.9L108.69 337.5L104.59 340.1Z" fill="none" stroke="#2b4cb5" stroke-width="1.1" stroke-linejoin="miter"/><path d="M124.81 335.9L128.91 338.5L124.81 341.1Z" fill="none" stroke="#2b4cb5" stroke-width="1.1" stroke-linejoin="miter"/><path d="M145.03 343.9L149.13 346.5L145.03 349.1Z" fill="none" stroke="#2b4cb5" stroke-width="1.1" stroke-linejoin="miter"/><path d="M165.26 347.3L169.36 349.9L165.26 352.5Z" fill="none" stroke="#2b4cb5" stroke-width="1.1" stroke-linejoin="miter"/><path d="M185.48 348.8L189.58 351.4L185.48 354Z" fill="none" stroke="#2b4cb5" stroke-width="1.1" stroke-linejoin="miter"/><path d="M205.7 350.2L209.8 352.8L205.7 355.4Z" fill="none" stroke="#2b4cb5" stroke-width="1.1" stroke-linejoin="miter"/></g><g clip-path="url(#cCMMOP11)"><polyline points="25.5,291.9 45.72,317.9 65.94,324.6 86.17,325 106.39,325.4 126.61,339.4 146.83,344.4 167.06,345.4 187.28,347.8 207.5,349.2" fill="none" stroke="#4cc3bc" stroke-width="0.9" stroke-dasharray="3.2 1.3 0.9 1.3" stroke-linejoin="round"/><polygon points="25.5,289.2 26.15,291.01 28.07,291.07 26.55,292.24 27.09,294.08 25.5,293 23.91,294.08 24.45,292.24 22.93,291.07 24.85,291.01" fill="#4cc3bc" fill-opacity="0.6" stroke="#4cc3bc" stroke-width="0.7"/><polygon points="45.72,315.2 46.37,317.01 48.29,317.07 46.77,318.24 47.31,320.08 45.72,319 44.14,320.08 44.68,318.24 43.15,317.07 45.08,317.01" fill="#4cc3bc" fill-opacity="0.6" stroke="#4cc3bc" stroke-width="0.7"/><polygon points="65.94,321.9 66.59,323.71 68.51,323.77 66.99,324.94 67.53,326.78 65.94,325.7 64.36,326.78 64.9,324.94 63.38,323.77 65.3,323.71" fill="#4cc3bc" fill-opacity="0.6" stroke="#4cc3bc" stroke-width="0.7"/><polygon points="86.17,322.3 86.81,324.11 88.73,324.17 87.21,325.34 87.75,327.18 86.17,326.1 84.58,327.18 85.12,325.34 83.6,324.17 85.52,324.11" fill="#4cc3bc" fill-opacity="0.6" stroke="#4cc3bc" stroke-width="0.7"/><polygon points="106.39,322.7 107.04,324.51 108.96,324.57 107.44,325.74 107.98,327.58 106.39,326.5 104.8,327.58 105.34,325.74 103.82,324.57 105.74,324.51" fill="#4cc3bc" fill-opacity="0.6" stroke="#4cc3bc" stroke-width="0.7"/><polygon points="126.61,336.7 127.26,338.51 129.18,338.57 127.66,339.74 128.2,341.58 126.61,340.5 125.02,341.58 125.56,339.74 124.04,338.57 125.96,338.51" fill="#4cc3bc" fill-opacity="0.6" stroke="#4cc3bc" stroke-width="0.7"/><polygon points="146.83,341.7 147.48,343.51 149.4,343.57 147.88,344.74 148.42,346.58 146.83,345.5 145.25,346.58 145.79,344.74 144.27,343.57 146.19,343.51" fill="#4cc3bc" fill-opacity="0.6" stroke="#4cc3bc" stroke-width="0.7"/><polygon points="167.06,342.7 167.7,344.51 169.62,344.57 168.1,345.74 168.64,347.58 167.06,346.5 165.47,347.58 166.01,345.74 164.49,344.57 166.41,344.51" fill="#4cc3bc" fill-opacity="0.6" stroke="#4cc3bc" stroke-width="0.7"/><polygon points="187.28,345.1 187.92,346.91 189.85,346.97 188.32,348.14 188.86,349.98 187.28,348.9 185.69,349.98 186.23,348.14 184.71,346.97 186.63,346.91" fill="#4cc3bc" fill-opacity="0.6" stroke="#4cc3bc" stroke-width="0.7"/><polygon points="207.5,346.5 208.15,348.31 210.07,348.37 208.55,349.54 209.09,351.38 207.5,350.3 205.91,351.38 206.45,349.54 204.93,348.37 206.85,348.31" fill="#4cc3bc" fill-opacity="0.6" stroke="#4cc3bc" stroke-width="0.7"/></g><g clip-path="url(#cCMMOP11)"><polyline points="25.5,222.8 45.72,280.6 65.94,309 86.17,325.6 106.39,335.5 126.61,343.4 146.83,348.3 167.06,352.8 187.28,355.2 207.5,357.6" fill="none" stroke="#f2412f" stroke-width="1.0" stroke-linejoin="round"/><circle cx="25.5" cy="222.8" r="2.15" fill="none" stroke="#f2412f" stroke-width="0.8"/><circle cx="45.72" cy="280.6" r="2.15" fill="none" stroke="#f2412f" stroke-width="0.8"/><circle cx="65.94" cy="309" r="2.15" fill="none" stroke="#f2412f" stroke-width="0.8"/><circle cx="86.17" cy="325.6" r="2.15" fill="none" stroke="#f2412f" stroke-width="0.8"/><circle cx="106.39" cy="335.5" r="2.15" fill="none" stroke="#f2412f" stroke-width="0.8"/><circle cx="126.61" cy="343.4" r="2.15" fill="none" stroke="#f2412f" stroke-width="0.8"/><circle cx="146.83" cy="348.3" r="2.15" fill="none" stroke="#f2412f" stroke-width="0.8"/><circle cx="167.06" cy="352.8" r="2.15" fill="none" stroke="#f2412f" stroke-width="0.8"/><circle cx="187.28" cy="355.2" r="2.15" fill="none" stroke="#f2412f" stroke-width="0.8"/><circle cx="207.5" cy="357.6" r="2.15" fill="none" stroke="#f2412f" stroke-width="0.8"/></g><rect x="141.3" y="222.1" width="59.8" height="38.4" fill="#fff" stroke="#3d3d3d" stroke-width="0.7"/><line x1="143.6" y1="226.7" x2="164.3" y2="226.7" stroke="#000000" stroke-width="1.05" stroke-dasharray="3.2 1.3 0.9 1.3"/><path d="M154 223.9L156.3 226.7L154 229.5L151.7 226.7Z" fill="none" stroke="#000000" stroke-width="0.95"/><line x1="143.6" y1="234" x2="164.3" y2="234" stroke="#b94cb6" stroke-width="1.05" stroke-dasharray="4.4 2.3"/><circle cx="154" cy="234" r="1.65" fill="#b94cb6" stroke="#b94cb6" stroke-width="0.4"/><line x1="143.6" y1="241.3" x2="164.3" y2="241.3" stroke="#2b4cb5" stroke-width="0.8" stroke-dasharray="1 1.3"/><path d="M152.2 238.7L156.3 241.3L152.2 243.9Z" fill="none" stroke="#2b4cb5" stroke-width="1.1" stroke-linejoin="miter"/><line x1="143.6" y1="248.6" x2="164.3" y2="248.6" stroke="#4cc3bc" stroke-width="0.9" stroke-dasharray="3.2 1.3 0.9 1.3"/><polygon points="154,245.9 154.65,247.71 156.57,247.77 155.05,248.94 155.59,250.78 154,249.7 152.41,250.78 152.95,248.94 151.43,247.77 153.35,247.71" fill="#4cc3bc" fill-opacity="0.6" stroke="#4cc3bc" stroke-width="0.7"/><line x1="143.6" y1="255.9" x2="164.3" y2="255.9" stroke="#f2412f" stroke-width="1.0"/><circle cx="154" cy="255.9" r="2.15" fill="none" stroke="#f2412f" stroke-width="0.8"/></g>
<g><clipPath id="cCMMOP12"><rect x="258.5" y="212.5" width="190" height="155"/></clipPath><rect x="262.5" y="216.5" width="182" height="147" fill="none" stroke="#3d3d3d" stroke-width="1.0"/><path d="M275.98 363.5v-2.3M275.98 216.5v2.3M309.69 363.5v-2.3M309.69 216.5v2.3M343.39 363.5v-2.3M343.39 216.5v2.3M377.09 363.5v-2.3M377.09 216.5v2.3M410.8 363.5v-2.3M410.8 216.5v2.3M444.5 363.5v-2.3M444.5 216.5v2.3M262.5 363.5h2.3M444.5 363.5h-2.3M262.5 347.17h2.3M444.5 347.17h-2.3M262.5 330.83h2.3M444.5 330.83h-2.3M262.5 314.5h2.3M444.5 314.5h-2.3M262.5 298.17h2.3M444.5 298.17h-2.3M262.5 281.83h2.3M444.5 281.83h-2.3M262.5 265.5h2.3M444.5 265.5h-2.3M262.5 249.17h2.3M444.5 249.17h-2.3M262.5 232.83h2.3M444.5 232.83h-2.3M262.5 216.5h2.3M444.5 216.5h-2.3" stroke="#262626" stroke-width="1.0" fill="none"/><g clip-path="url(#cCMMOP12)"><polyline points="262.5,320.9 282.72,332.1 302.94,332.1 323.17,331 343.39,332.6 363.61,335.3 383.83,337.3 404.06,338.8 424.28,340.2 444.5,341.8" fill="none" stroke="#000000" stroke-width="1.05" stroke-dasharray="3.2 1.3 0.9 1.3" stroke-linejoin="round"/><path d="M262.5 318.1L264.8 320.9L262.5 323.7L260.2 320.9Z" fill="none" stroke="#000000" stroke-width="0.95"/><path d="M282.72 329.3L285.02 332.1L282.72 334.9L280.42 332.1Z" fill="none" stroke="#000000" stroke-width="0.95"/><path d="M302.94 329.3L305.24 332.1L302.94 334.9L300.64 332.1Z" fill="none" stroke="#000000" stroke-width="0.95"/><path d="M323.17 328.2L325.47 331L323.17 333.8L320.87 331Z" fill="none" stroke="#000000" stroke-width="0.95"/><path d="M343.39 329.8L345.69 332.6L343.39 335.4L341.09 332.6Z" fill="none" stroke="#000000" stroke-width="0.95"/><path d="M363.61 332.5L365.91 335.3L363.61 338.1L361.31 335.3Z" fill="none" stroke="#000000" stroke-width="0.95"/><path d="M383.83 334.5L386.13 337.3L383.83 340.1L381.53 337.3Z" fill="none" stroke="#000000" stroke-width="0.95"/><path d="M404.06 336L406.36 338.8L404.06 341.6L401.76 338.8Z" fill="none" stroke="#000000" stroke-width="0.95"/><path d="M424.28 337.4L426.58 340.2L424.28 343L421.98 340.2Z" fill="none" stroke="#000000" stroke-width="0.95"/><path d="M444.5 339L446.8 341.8L444.5 344.6L442.2 341.8Z" fill="none" stroke="#000000" stroke-width="0.95"/></g><g clip-path="url(#cCMMOP12)"><polyline points="262.5,289.6 282.72,283.4 302.94,272.2 323.17,266.4 343.39,257.2 363.61,250.2 383.83,238.5 404.06,235 424.28,232 444.5,230" fill="none" stroke="#b94cb6" stroke-width="1.05" stroke-dasharray="4.4 2.3" stroke-linejoin="round"/><circle cx="262.5" cy="289.6" r="1.65" fill="#b94cb6" stroke="#b94cb6" stroke-width="0.4"/><circle cx="282.72" cy="283.4" r="1.65" fill="#b94cb6" stroke="#b94cb6" stroke-width="0.4"/><circle cx="302.94" cy="272.2" r="1.65" fill="#b94cb6" stroke="#b94cb6" stroke-width="0.4"/><circle cx="323.17" cy="266.4" r="1.65" fill="#b94cb6" stroke="#b94cb6" stroke-width="0.4"/><circle cx="343.39" cy="257.2" r="1.65" fill="#b94cb6" stroke="#b94cb6" stroke-width="0.4"/><circle cx="363.61" cy="250.2" r="1.65" fill="#b94cb6" stroke="#b94cb6" stroke-width="0.4"/><circle cx="383.83" cy="238.5" r="1.65" fill="#b94cb6" stroke="#b94cb6" stroke-width="0.4"/><circle cx="404.06" cy="235" r="1.65" fill="#b94cb6" stroke="#b94cb6" stroke-width="0.4"/><circle cx="424.28" cy="232" r="1.65" fill="#b94cb6" stroke="#b94cb6" stroke-width="0.4"/><circle cx="444.5" cy="230" r="1.65" fill="#b94cb6" stroke="#b94cb6" stroke-width="0.4"/></g><g clip-path="url(#cCMMOP12)"><polyline points="262.5,341 282.72,342.5 302.94,342.3 323.17,342.3 343.39,344.3 363.61,334.9 383.83,330 404.06,329.6 424.28,325.2 444.5,321.8" fill="none" stroke="#2b4cb5" stroke-width="0.8" stroke-dasharray="1 1.3" stroke-linejoin="round"/><path d="M260.7 338.4L264.8 341L260.7 343.6Z" fill="none" stroke="#2b4cb5" stroke-width="1.1" stroke-linejoin="miter"/><path d="M280.92 339.9L285.02 342.5L280.92 345.1Z" fill="none" stroke="#2b4cb5" stroke-width="1.1" stroke-linejoin="miter"/><path d="M301.14 339.7L305.24 342.3L301.14 344.9Z" fill="none" stroke="#2b4cb5" stroke-width="1.1" stroke-linejoin="miter"/><path d="M321.37 339.7L325.47 342.3L321.37 344.9Z" fill="none" stroke="#2b4cb5" stroke-width="1.1" stroke-linejoin="miter"/><path d="M341.59 341.7L345.69 344.3L341.59 346.9Z" fill="none" stroke="#2b4cb5" stroke-width="1.1" stroke-linejoin="miter"/><path d="M361.81 332.3L365.91 334.9L361.81 337.5Z" fill="none" stroke="#2b4cb5" stroke-width="1.1" stroke-linejoin="miter"/><path d="M382.03 327.4L386.13 330L382.03 332.6Z" fill="none" stroke="#2b4cb5" stroke-width="1.1" stroke-linejoin="miter"/><path d="M402.26 327L406.36 329.6L402.26 332.2Z" fill="none" stroke="#2b4cb5" stroke-width="1.1" stroke-linejoin="miter"/><path d="M422.48 322.6L426.58 325.2L422.48 327.8Z" fill="none" stroke="#2b4cb5" stroke-width="1.1" stroke-linejoin="miter"/><path d="M442.7 319.2L446.8 321.8L442.7 324.4Z" fill="none" stroke="#2b4cb5" stroke-width="1.1" stroke-linejoin="miter"/></g><g clip-path="url(#cCMMOP12)"><polyline points="262.5,337.6 282.72,342 302.94,341.8 323.17,343.1 343.39,343.7 363.61,345.3 383.83,346.6 404.06,345.1 424.28,345.7 444.5,345.7" fill="none" stroke="#4cc3bc" stroke-width="0.9" stroke-dasharray="3.2 1.3 0.9 1.3" stroke-linejoin="round"/><polygon points="262.5,334.9 263.15,336.71 265.07,336.77 263.55,337.94 264.09,339.78 262.5,338.7 260.91,339.78 261.45,337.94 259.93,336.77 261.85,336.71" fill="#4cc3bc" fill-opacity="0.6" stroke="#4cc3bc" stroke-width="0.7"/><polygon points="282.72,339.3 283.37,341.11 285.29,341.17 283.77,342.34 284.31,344.18 282.72,343.1 281.14,344.18 281.68,342.34 280.15,341.17 282.08,341.11" fill="#4cc3bc" fill-opacity="0.6" stroke="#4cc3bc" stroke-width="0.7"/><polygon points="302.94,339.1 303.59,340.91 305.51,340.97 303.99,342.14 304.53,343.98 302.94,342.9 301.36,343.98 301.9,342.14 300.38,340.97 302.3,340.91" fill="#4cc3bc" fill-opacity="0.6" stroke="#4cc3bc" stroke-width="0.7"/><polygon points="323.17,340.4 323.81,342.21 325.73,342.27 324.21,343.44 324.75,345.28 323.17,344.2 321.58,345.28 322.12,343.44 320.6,342.27 322.52,342.21" fill="#4cc3bc" fill-opacity="0.6" stroke="#4cc3bc" stroke-width="0.7"/><polygon points="343.39,341 344.04,342.81 345.96,342.87 344.44,344.04 344.98,345.88 343.39,344.8 341.8,345.88 342.34,344.04 340.82,342.87 342.74,342.81" fill="#4cc3bc" fill-opacity="0.6" stroke="#4cc3bc" stroke-width="0.7"/><polygon points="363.61,342.6 364.26,344.41 366.18,344.47 364.66,345.64 365.2,347.48 363.61,346.4 362.02,347.48 362.56,345.64 361.04,344.47 362.96,344.41" fill="#4cc3bc" fill-opacity="0.6" stroke="#4cc3bc" stroke-width="0.7"/><polygon points="383.83,343.9 384.48,345.71 386.4,345.77 384.88,346.94 385.42,348.78 383.83,347.7 382.25,348.78 382.79,346.94 381.27,345.77 383.19,345.71" fill="#4cc3bc" fill-opacity="0.6" stroke="#4cc3bc" stroke-width="0.7"/><polygon points="404.06,342.4 404.7,344.21 406.62,344.27 405.1,345.44 405.64,347.28 404.06,346.2 402.47,347.28 403.01,345.44 401.49,344.27 403.41,344.21" fill="#4cc3bc" fill-opacity="0.6" stroke="#4cc3bc" stroke-width="0.7"/><polygon points="424.28,343 424.92,344.81 426.85,344.87 425.32,346.04 425.86,347.88 424.28,346.8 422.69,347.88 423.23,346.04 421.71,344.87 423.63,344.81" fill="#4cc3bc" fill-opacity="0.6" stroke="#4cc3bc" stroke-width="0.7"/><polygon points="444.5,343 445.15,344.81 447.07,344.87 445.55,346.04 446.09,347.88 444.5,346.8 442.91,347.88 443.45,346.04 441.93,344.87 443.85,344.81" fill="#4cc3bc" fill-opacity="0.6" stroke="#4cc3bc" stroke-width="0.7"/></g><g clip-path="url(#cCMMOP12)"><polyline points="262.5,320.9 282.72,332.1 302.94,336.6 323.17,339.4 343.39,342.3 363.61,345.7 383.83,347 404.06,349.6 424.28,350 444.5,350.5" fill="none" stroke="#f2412f" stroke-width="1.0" stroke-linejoin="round"/><circle cx="262.5" cy="320.9" r="2.15" fill="none" stroke="#f2412f" stroke-width="0.8"/><circle cx="282.72" cy="332.1" r="2.15" fill="none" stroke="#f2412f" stroke-width="0.8"/><circle cx="302.94" cy="336.6" r="2.15" fill="none" stroke="#f2412f" stroke-width="0.8"/><circle cx="323.17" cy="339.4" r="2.15" fill="none" stroke="#f2412f" stroke-width="0.8"/><circle cx="343.39" cy="342.3" r="2.15" fill="none" stroke="#f2412f" stroke-width="0.8"/><circle cx="363.61" cy="345.7" r="2.15" fill="none" stroke="#f2412f" stroke-width="0.8"/><circle cx="383.83" cy="347" r="2.15" fill="none" stroke="#f2412f" stroke-width="0.8"/><circle cx="404.06" cy="349.6" r="2.15" fill="none" stroke="#f2412f" stroke-width="0.8"/><circle cx="424.28" cy="350" r="2.15" fill="none" stroke="#f2412f" stroke-width="0.8"/><circle cx="444.5" cy="350.5" r="2.15" fill="none" stroke="#f2412f" stroke-width="0.8"/></g><rect x="379.1" y="222.1" width="59.8" height="38.4" fill="#fff" stroke="#3d3d3d" stroke-width="0.7"/><line x1="381.4" y1="226.7" x2="402.1" y2="226.7" stroke="#000000" stroke-width="1.05" stroke-dasharray="3.2 1.3 0.9 1.3"/><path d="M391.8 223.9L394.1 226.7L391.8 229.5L389.5 226.7Z" fill="none" stroke="#000000" stroke-width="0.95"/><line x1="381.4" y1="234" x2="402.1" y2="234" stroke="#b94cb6" stroke-width="1.05" stroke-dasharray="4.4 2.3"/><circle cx="391.8" cy="234" r="1.65" fill="#b94cb6" stroke="#b94cb6" stroke-width="0.4"/><line x1="381.4" y1="241.3" x2="402.1" y2="241.3" stroke="#2b4cb5" stroke-width="0.8" stroke-dasharray="1 1.3"/><path d="M390 238.7L394.1 241.3L390 243.9Z" fill="none" stroke="#2b4cb5" stroke-width="1.1" stroke-linejoin="miter"/><line x1="381.4" y1="248.6" x2="402.1" y2="248.6" stroke="#4cc3bc" stroke-width="0.9" stroke-dasharray="3.2 1.3 0.9 1.3"/><polygon points="391.8,245.9 392.45,247.71 394.37,247.77 392.85,248.94 393.39,250.78 391.8,249.7 390.21,250.78 390.75,248.94 389.23,247.77 391.15,247.71" fill="#4cc3bc" fill-opacity="0.6" stroke="#4cc3bc" stroke-width="0.7"/><line x1="381.4" y1="255.9" x2="402.1" y2="255.9" stroke="#f2412f" stroke-width="1.0"/><circle cx="391.8" cy="255.9" r="2.15" fill="none" stroke="#f2412f" stroke-width="0.8"/></g>
<g><clipPath id="cCMMOP14"><rect x="496" y="212.5" width="189.5" height="155"/></clipPath><rect x="500" y="216.5" width="181.5" height="147" fill="none" stroke="#3d3d3d" stroke-width="1.0"/><path d="M513.44 363.5v-2.3M513.44 216.5v2.3M547.06 363.5v-2.3M547.06 216.5v2.3M580.67 363.5v-2.3M580.67 216.5v2.3M614.28 363.5v-2.3M614.28 216.5v2.3M647.89 363.5v-2.3M647.89 216.5v2.3M681.5 363.5v-2.3M681.5 216.5v2.3M500 363.5h2.3M681.5 363.5h-2.3M500 342.5h2.3M681.5 342.5h-2.3M500 321.5h2.3M681.5 321.5h-2.3M500 300.5h2.3M681.5 300.5h-2.3M500 279.5h2.3M681.5 279.5h-2.3M500 258.5h2.3M681.5 258.5h-2.3M500 237.5h2.3M681.5 237.5h-2.3M500 216.5h2.3M681.5 216.5h-2.3" stroke="#262626" stroke-width="1.0" fill="none"/><g clip-path="url(#cCMMOP14)"><polyline points="500,263.6 520.17,295.4 540.33,312.4 560.5,322.9 580.67,329.1 600.83,334.5 621,338.2 641.17,340.1 661.33,341.1 681.5,342.3" fill="none" stroke="#000000" stroke-width="1.05" stroke-dasharray="3.2 1.3 0.9 1.3" stroke-linejoin="round"/><path d="M500 260.8L502.3 263.6L500 266.4L497.7 263.6Z" fill="none" stroke="#000000" stroke-width="0.95"/><path d="M520.17 292.6L522.47 295.4L520.17 298.2L517.87 295.4Z" fill="none" stroke="#000000" stroke-width="0.95"/><path d="M540.33 309.6L542.63 312.4L540.33 315.2L538.03 312.4Z" fill="none" stroke="#000000" stroke-width="0.95"/><path d="M560.5 320.1L562.8 322.9L560.5 325.7L558.2 322.9Z" fill="none" stroke="#000000" stroke-width="0.95"/><path d="M580.67 326.3L582.97 329.1L580.67 331.9L578.37 329.1Z" fill="none" stroke="#000000" stroke-width="0.95"/><path d="M600.83 331.7L603.13 334.5L600.83 337.3L598.53 334.5Z" fill="none" stroke="#000000" stroke-width="0.95"/><path d="M621 335.4L623.3 338.2L621 341L618.7 338.2Z" fill="none" stroke="#000000" stroke-width="0.95"/><path d="M641.17 337.3L643.47 340.1L641.17 342.9L638.87 340.1Z" fill="none" stroke="#000000" stroke-width="0.95"/><path d="M661.33 338.3L663.63 341.1L661.33 343.9L659.03 341.1Z" fill="none" stroke="#000000" stroke-width="0.95"/><path d="M681.5 339.5L683.8 342.3L681.5 345.1L679.2 342.3Z" fill="none" stroke="#000000" stroke-width="0.95"/></g><g clip-path="url(#cCMMOP14)"><polyline points="500,224.1 520.17,237.4 540.33,244.5 560.5,249.8 580.67,253.8 600.83,255.4 621,253.5 641.17,252 661.33,251 681.5,249.8" fill="none" stroke="#b94cb6" stroke-width="1.05" stroke-dasharray="4.4 2.3" stroke-linejoin="round"/><circle cx="500" cy="224.1" r="1.65" fill="#b94cb6" stroke="#b94cb6" stroke-width="0.4"/><circle cx="520.17" cy="237.4" r="1.65" fill="#b94cb6" stroke="#b94cb6" stroke-width="0.4"/><circle cx="540.33" cy="244.5" r="1.65" fill="#b94cb6" stroke="#b94cb6" stroke-width="0.4"/><circle cx="560.5" cy="249.8" r="1.65" fill="#b94cb6" stroke="#b94cb6" stroke-width="0.4"/><circle cx="580.67" cy="253.8" r="1.65" fill="#b94cb6" stroke="#b94cb6" stroke-width="0.4"/><circle cx="600.83" cy="255.4" r="1.65" fill="#b94cb6" stroke="#b94cb6" stroke-width="0.4"/><circle cx="621" cy="253.5" r="1.65" fill="#b94cb6" stroke="#b94cb6" stroke-width="0.4"/><circle cx="641.17" cy="252" r="1.65" fill="#b94cb6" stroke="#b94cb6" stroke-width="0.4"/><circle cx="661.33" cy="251" r="1.65" fill="#b94cb6" stroke="#b94cb6" stroke-width="0.4"/><circle cx="681.5" cy="249.8" r="1.65" fill="#b94cb6" stroke="#b94cb6" stroke-width="0.4"/></g><g clip-path="url(#cCMMOP14)"><polyline points="500,303.2 520.17,321.5 540.33,327.4 560.5,330.8 580.67,331.2 600.83,330.2 621,330.3 641.17,330 661.33,327.6 681.5,327.1" fill="none" stroke="#2b4cb5" stroke-width="0.8" stroke-dasharray="1 1.3" stroke-linejoin="round"/><path d="M498.2 300.6L502.3 303.2L498.2 305.8Z" fill="none" stroke="#2b4cb5" stroke-width="1.1" stroke-linejoin="miter"/><path d="M518.37 318.9L522.47 321.5L518.37 324.1Z" fill="none" stroke="#2b4cb5" stroke-width="1.1" stroke-linejoin="miter"/><path d="M538.53 324.8L542.63 327.4L538.53 330Z" fill="none" stroke="#2b4cb5" stroke-width="1.1" stroke-linejoin="miter"/><path d="M558.7 328.2L562.8 330.8L558.7 333.4Z" fill="none" stroke="#2b4cb5" stroke-width="1.1" stroke-linejoin="miter"/><path d="M578.87 328.6L582.97 331.2L578.87 333.8Z" fill="none" stroke="#2b4cb5" stroke-width="1.1" stroke-linejoin="miter"/><path d="M599.03 327.6L603.13 330.2L599.03 332.8Z" fill="none" stroke="#2b4cb5" stroke-width="1.1" stroke-linejoin="miter"/><path d="M619.2 327.7L623.3 330.3L619.2 332.9Z" fill="none" stroke="#2b4cb5" stroke-width="1.1" stroke-linejoin="miter"/><path d="M639.37 327.4L643.47 330L639.37 332.6Z" fill="none" stroke="#2b4cb5" stroke-width="1.1" stroke-linejoin="miter"/><path d="M659.53 325L663.63 327.6L659.53 330.2Z" fill="none" stroke="#2b4cb5" stroke-width="1.1" stroke-linejoin="miter"/><path d="M679.7 324.5L683.8 327.1L679.7 329.7Z" fill="none" stroke="#2b4cb5" stroke-width="1.1" stroke-linejoin="miter"/></g><g clip-path="url(#cCMMOP14)"><polyline points="500,323.5 520.17,335.9 540.33,336.4 560.5,335.9 580.67,334.2 600.83,337.3 621,342 641.17,343.7 661.33,344.3 681.5,344" fill="none" stroke="#4cc3bc" stroke-width="0.9" stroke-dasharray="3.2 1.3 0.9 1.3" stroke-linejoin="round"/><polygon points="500,320.8 500.65,322.61 502.57,322.67 501.05,323.84 501.59,325.68 500,324.6 498.41,325.68 498.95,323.84 497.43,322.67 499.35,322.61" fill="#4cc3bc" fill-opacity="0.6" stroke="#4cc3bc" stroke-width="0.7"/><polygon points="520.17,333.2 520.81,335.01 522.73,335.07 521.21,336.24 521.75,338.08 520.17,337 518.58,338.08 519.12,336.24 517.6,335.07 519.52,335.01" fill="#4cc3bc" fill-opacity="0.6" stroke="#4cc3bc" stroke-width="0.7"/><polygon points="540.33,333.7 540.98,335.51 542.9,335.57 541.38,336.74 541.92,338.58 540.33,337.5 538.75,338.58 539.29,336.74 537.77,335.57 539.69,335.51" fill="#4cc3bc" fill-opacity="0.6" stroke="#4cc3bc" stroke-width="0.7"/><polygon points="560.5,333.2 561.15,335.01 563.07,335.07 561.55,336.24 562.09,338.08 560.5,337 558.91,338.08 559.45,336.24 557.93,335.07 559.85,335.01" fill="#4cc3bc" fill-opacity="0.6" stroke="#4cc3bc" stroke-width="0.7"/><polygon points="580.67,331.5 581.31,333.31 583.23,333.37 581.71,334.54 582.25,336.38 580.67,335.3 579.08,336.38 579.62,334.54 578.1,333.37 580.02,333.31" fill="#4cc3bc" fill-opacity="0.6" stroke="#4cc3bc" stroke-width="0.7"/><polygon points="600.83,334.6 601.48,336.41 603.4,336.47 601.88,337.64 602.42,339.48 600.83,338.4 599.25,339.48 599.79,337.64 598.27,336.47 600.19,336.41" fill="#4cc3bc" fill-opacity="0.6" stroke="#4cc3bc" stroke-width="0.7"/><polygon points="621,339.3 621.65,341.11 623.57,341.17 622.05,342.34 622.59,344.18 621,343.1 619.41,344.18 619.95,342.34 618.43,341.17 620.35,341.11" fill="#4cc3bc" fill-opacity="0.6" stroke="#4cc3bc" stroke-width="0.7"/><polygon points="641.17,341 641.81,342.81 643.73,342.87 642.21,344.04 642.75,345.88 641.17,344.8 639.58,345.88 640.12,344.04 638.6,342.87 640.52,342.81" fill="#4cc3bc" fill-opacity="0.6" stroke="#4cc3bc" stroke-width="0.7"/><polygon points="661.33,341.6 661.98,343.41 663.9,343.47 662.38,344.64 662.92,346.48 661.33,345.4 659.75,346.48 660.29,344.64 658.77,343.47 660.69,343.41" fill="#4cc3bc" fill-opacity="0.6" stroke="#4cc3bc" stroke-width="0.7"/><polygon points="681.5,341.3 682.15,343.11 684.07,343.17 682.55,344.34 683.09,346.18 681.5,345.1 679.91,346.18 680.45,344.34 678.93,343.17 680.85,343.11" fill="#4cc3bc" fill-opacity="0.6" stroke="#4cc3bc" stroke-width="0.7"/></g><g clip-path="url(#cCMMOP14)"><polyline points="500,264.4 520.17,301.6 540.33,321.8 560.5,329 580.67,335.5 600.83,339.8 621,343.2 641.17,344.5 661.33,345.3 681.5,346" fill="none" stroke="#f2412f" stroke-width="1.0" stroke-linejoin="round"/><circle cx="500" cy="264.4" r="2.15" fill="none" stroke="#f2412f" stroke-width="0.8"/><circle cx="520.17" cy="301.6" r="2.15" fill="none" stroke="#f2412f" stroke-width="0.8"/><circle cx="540.33" cy="321.8" r="2.15" fill="none" stroke="#f2412f" stroke-width="0.8"/><circle cx="560.5" cy="329" r="2.15" fill="none" stroke="#f2412f" stroke-width="0.8"/><circle cx="580.67" cy="335.5" r="2.15" fill="none" stroke="#f2412f" stroke-width="0.8"/><circle cx="600.83" cy="339.8" r="2.15" fill="none" stroke="#f2412f" stroke-width="0.8"/><circle cx="621" cy="343.2" r="2.15" fill="none" stroke="#f2412f" stroke-width="0.8"/><circle cx="641.17" cy="344.5" r="2.15" fill="none" stroke="#f2412f" stroke-width="0.8"/><circle cx="661.33" cy="345.3" r="2.15" fill="none" stroke="#f2412f" stroke-width="0.8"/><circle cx="681.5" cy="346" r="2.15" fill="none" stroke="#f2412f" stroke-width="0.8"/></g><rect x="616.1" y="222.1" width="59.8" height="38.4" fill="#fff" stroke="#3d3d3d" stroke-width="0.7"/><line x1="618.4" y1="226.7" x2="639.1" y2="226.7" stroke="#000000" stroke-width="1.05" stroke-dasharray="3.2 1.3 0.9 1.3"/><path d="M628.8 223.9L631.1 226.7L628.8 229.5L626.5 226.7Z" fill="none" stroke="#000000" stroke-width="0.95"/><line x1="618.4" y1="234" x2="639.1" y2="234" stroke="#b94cb6" stroke-width="1.05" stroke-dasharray="4.4 2.3"/><circle cx="628.8" cy="234" r="1.65" fill="#b94cb6" stroke="#b94cb6" stroke-width="0.4"/><line x1="618.4" y1="241.3" x2="639.1" y2="241.3" stroke="#2b4cb5" stroke-width="0.8" stroke-dasharray="1 1.3"/><path d="M627 238.7L631.1 241.3L627 243.9Z" fill="none" stroke="#2b4cb5" stroke-width="1.1" stroke-linejoin="miter"/><line x1="618.4" y1="248.6" x2="639.1" y2="248.6" stroke="#4cc3bc" stroke-width="0.9" stroke-dasharray="3.2 1.3 0.9 1.3"/><polygon points="628.8,245.9 629.45,247.71 631.37,247.77 629.85,248.94 630.39,250.78 628.8,249.7 627.21,250.78 627.75,248.94 626.23,247.77 628.15,247.71" fill="#4cc3bc" fill-opacity="0.6" stroke="#4cc3bc" stroke-width="0.7"/><line x1="618.4" y1="255.9" x2="639.1" y2="255.9" stroke="#f2412f" stroke-width="1.0"/><circle cx="628.8" cy="255.9" r="2.15" fill="none" stroke="#f2412f" stroke-width="0.8"/></g>
</g>
<g><text x="38.98" y="166.4" text-anchor="middle" class="tk">0.5</text><text x="72.69" y="166.4" text-anchor="middle" class="tk">1</text><text x="106.39" y="166.4" text-anchor="middle" class="tk">1.5</text><text x="140.09" y="166.4" text-anchor="middle" class="tk">2</text><text x="173.8" y="166.4" text-anchor="middle" class="tk">2.5</text><text x="207.5" y="166.4" text-anchor="middle" class="tk">3</text><text x="22.2" y="159.4" text-anchor="end" class="tk">0.01</text><text x="22.2" y="143.18" text-anchor="end" class="tk">0.02</text><text x="22.2" y="126.96" text-anchor="end" class="tk">0.03</text><text x="22.2" y="110.73" text-anchor="end" class="tk">0.04</text><text x="22.2" y="94.51" text-anchor="end" class="tk">0.05</text><text x="22.2" y="78.29" text-anchor="end" class="tk">0.06</text><text x="22.2" y="62.07" text-anchor="end" class="tk">0.07</text><text x="22.2" y="45.84" text-anchor="end" class="tk">0.08</text><text x="22.2" y="29.62" text-anchor="end" class="tk">0.09</text><text x="22.2" y="13.4" text-anchor="end" class="tk">0.1</text><text x="192.2" y="177.8" class="tk"><tspan font-size="8.4">×</tspan><tspan dx="0.2" dy="-1.1">10</tspan><tspan font-size="5.4" dx="0.1" dy="-2.9">4</tspan></text><text x="116.5" y="177.1" text-anchor="middle" class="lb">Number of evaluations</text><text transform="translate(7.1,83.5) rotate(-90)" text-anchor="middle" class="lb">IGDX</text><text x="116.5" y="7.2" text-anchor="middle" class="tt">CMMOP4</text><text x="166.1" y="22.9" class="lg">C-MMEAWI</text><text x="166.1" y="30.2" class="lg">NSGAII</text><text x="166.1" y="37.5" class="lg">CMMODE</text><text x="166.1" y="44.8" class="lg">FCCMMEA</text><text x="166.1" y="52.1" class="lg">PPS-CMMO</text><text x="275.98" y="166.4" text-anchor="middle" class="tk">0.5</text><text x="309.69" y="166.4" text-anchor="middle" class="tk">1</text><text x="343.39" y="166.4" text-anchor="middle" class="tk">1.5</text><text x="377.09" y="166.4" text-anchor="middle" class="tk">2</text><text x="410.8" y="166.4" text-anchor="middle" class="tk">2.5</text><text x="444.5" y="166.4" text-anchor="middle" class="tk">3</text><text x="259.2" y="159.4" text-anchor="end" class="tk">0.01</text><text x="259.2" y="141.15" text-anchor="end" class="tk">0.02</text><text x="259.2" y="122.9" text-anchor="end" class="tk">0.03</text><text x="259.2" y="104.65" text-anchor="end" class="tk">0.04</text><text x="259.2" y="86.4" text-anchor="end" class="tk">0.05</text><text x="259.2" y="68.15" text-anchor="end" class="tk">0.06</text><text x="259.2" y="49.9" text-anchor="end" class="tk">0.07</text><text x="259.2" y="31.65" text-anchor="end" class="tk">0.08</text><text x="259.2" y="13.4" text-anchor="end" class="tk">0.09</text><text x="429.2" y="177.8" class="tk"><tspan font-size="8.4">×</tspan><tspan dx="0.2" dy="-1.1">10</tspan><tspan font-size="5.4" dx="0.1" dy="-2.9">4</tspan></text><text x="353.5" y="177.1" text-anchor="middle" class="lb">Number of evaluations</text><text transform="translate(244.1,83.5) rotate(-90)" text-anchor="middle" class="lb">IGDX</text><text x="353.5" y="7.2" text-anchor="middle" class="tt">CMMOP6</text><text x="403.9" y="22.9" class="lg">C-MMEAWI</text><text x="403.9" y="30.2" class="lg">NSGAII</text><text x="403.9" y="37.5" class="lg">CMMODE</text><text x="403.9" y="44.8" class="lg">FCCMMEA</text><text x="403.9" y="52.1" class="lg">PPS-CMMO</text><text x="513.44" y="166.4" text-anchor="middle" class="tk">0.5</text><text x="547.06" y="166.4" text-anchor="middle" class="tk">1</text><text x="580.67" y="166.4" text-anchor="middle" class="tk">1.5</text><text x="614.28" y="166.4" text-anchor="middle" class="tk">2</text><text x="647.89" y="166.4" text-anchor="middle" class="tk">2.5</text><text x="681.5" y="166.4" text-anchor="middle" class="tk">3</text><text x="496.7" y="159.4" text-anchor="end" class="tk">0.015</text><text x="496.7" y="122.9" text-anchor="end" class="tk">0.02</text><text x="496.7" y="86.4" text-anchor="end" class="tk">0.025</text><text x="496.7" y="49.9" text-anchor="end" class="tk">0.03</text><text x="496.7" y="13.4" text-anchor="end" class="tk">0.035</text><text x="666.2" y="177.8" class="tk"><tspan font-size="8.4">×</tspan><tspan dx="0.2" dy="-1.1">10</tspan><tspan font-size="5.4" dx="0.1" dy="-2.9">4</tspan></text><text x="590.75" y="177.1" text-anchor="middle" class="lb">Number of evaluations</text><text transform="translate(477.8,83.5) rotate(-90)" text-anchor="middle" class="lb">IGDX</text><text x="590.75" y="7.2" text-anchor="middle" class="tt">CMMOP8</text><text x="640.9" y="22.9" class="lg">C-MMEAWI</text><text x="640.9" y="30.2" class="lg">NSGAII</text><text x="640.9" y="37.5" class="lg">CMMODE</text><text x="640.9" y="44.8" class="lg">FCCMMEA</text><text x="640.9" y="52.1" class="lg">PPS-CMMO</text><text x="38.98" y="373.4" text-anchor="middle" class="tk">0.5</text><text x="72.69" y="373.4" text-anchor="middle" class="tk">1</text><text x="106.39" y="373.4" text-anchor="middle" class="tk">1.5</text><text x="140.09" y="373.4" text-anchor="middle" class="tk">2</text><text x="173.8" y="373.4" text-anchor="middle" class="tk">2.5</text><text x="207.5" y="373.4" text-anchor="middle" class="tk">3</text><text x="22.2" y="366.4" text-anchor="end" class="tk">0.06</text><text x="22.2" y="348.02" text-anchor="end" class="tk">0.08</text><text x="22.2" y="329.65" text-anchor="end" class="tk">0.1</text><text x="22.2" y="311.27" text-anchor="end" class="tk">0.12</text><text x="22.2" y="292.9" text-anchor="end" class="tk">0.14</text><text x="22.2" y="274.52" text-anchor="end" class="tk">0.16</text><text x="22.2" y="256.15" text-anchor="end" class="tk">0.18</text><text x="22.2" y="237.77" text-anchor="end" class="tk">0.2</text><text x="22.2" y="219.4" text-anchor="end" class="tk">0.22</text><text x="192.2" y="384.8" class="tk"><tspan font-size="8.4">×</tspan><tspan dx="0.2" dy="-1.1">10</tspan><tspan font-size="5.4" dx="0.1" dy="-2.9">4</tspan></text><text x="116.5" y="384.1" text-anchor="middle" class="lb">Number of evaluations</text><text transform="translate(7.1,290) rotate(-90)" text-anchor="middle" class="lb">IGDX</text><text x="116.5" y="213.2" text-anchor="middle" class="tt">CMMOP11</text><text x="166.1" y="228.9" class="lg">C-MMEAWI</text><text x="166.1" y="236.2" class="lg">NSGAII</text><text x="166.1" y="243.5" class="lg">CMMODE</text><text x="166.1" y="250.8" class="lg">FCCMMEA</text><text x="166.1" y="258.1" class="lg">PPS-CMMO</text><text x="275.98" y="373.4" text-anchor="middle" class="tk">0.5</text><text x="309.69" y="373.4" text-anchor="middle" class="tk">1</text><text x="343.39" y="373.4" text-anchor="middle" class="tk">1.5</text><text x="377.09" y="373.4" text-anchor="middle" class="tk">2</text><text x="410.8" y="373.4" text-anchor="middle" class="tk">2.5</text><text x="444.5" y="373.4" text-anchor="middle" class="tk">3</text><text x="259.2" y="366.4" text-anchor="end" class="tk">0.05</text><text x="259.2" y="350.07" text-anchor="end" class="tk">0.1</text><text x="259.2" y="333.73" text-anchor="end" class="tk">0.15</text><text x="259.2" y="317.4" text-anchor="end" class="tk">0.2</text><text x="259.2" y="301.07" text-anchor="end" class="tk">0.25</text><text x="259.2" y="284.73" text-anchor="end" class="tk">0.3</text><text x="259.2" y="268.4" text-anchor="end" class="tk">0.35</text><text x="259.2" y="252.07" text-anchor="end" class="tk">0.4</text><text x="259.2" y="235.73" text-anchor="end" class="tk">0.45</text><text x="259.2" y="219.4" text-anchor="end" class="tk">0.5</text><text x="429.2" y="384.8" class="tk"><tspan font-size="8.4">×</tspan><tspan dx="0.2" dy="-1.1">10</tspan><tspan font-size="5.4" dx="0.1" dy="-2.9">4</tspan></text><text x="353.5" y="384.1" text-anchor="middle" class="lb">Number of evaluations</text><text transform="translate(244.1,290) rotate(-90)" text-anchor="middle" class="lb">IGDX</text><text x="353.5" y="213.2" text-anchor="middle" class="tt">CMMOP12</text><text x="403.9" y="228.9" class="lg">C-MMEAWI</text><text x="403.9" y="236.2" class="lg">NSGAII</text><text x="403.9" y="243.5" class="lg">CMMODE</text><text x="403.9" y="250.8" class="lg">FCCMMEA</text><text x="403.9" y="258.1" class="lg">PPS-CMMO</text><text x="513.44" y="373.4" text-anchor="middle" class="tk">0.5</text><text x="547.06" y="373.4" text-anchor="middle" class="tk">1</text><text x="580.67" y="373.4" text-anchor="middle" class="tk">1.5</text><text x="614.28" y="373.4" text-anchor="middle" class="tk">2</text><text x="647.89" y="373.4" text-anchor="middle" class="tk">2.5</text><text x="681.5" y="373.4" text-anchor="middle" class="tk">3</text><text x="496.7" y="366.4" text-anchor="end" class="tk">0</text><text x="496.7" y="345.4" text-anchor="end" class="tk">0.02</text><text x="496.7" y="324.4" text-anchor="end" class="tk">0.04</text><text x="496.7" y="303.4" text-anchor="end" class="tk">0.06</text><text x="496.7" y="282.4" text-anchor="end" class="tk">0.08</text><text x="496.7" y="261.4" text-anchor="end" class="tk">0.1</text><text x="496.7" y="240.4" text-anchor="end" class="tk">0.12</text><text x="496.7" y="219.4" text-anchor="end" class="tk">0.14</text><text x="666.2" y="384.8" class="tk"><tspan font-size="8.4">×</tspan><tspan dx="0.2" dy="-1.1">10</tspan><tspan font-size="5.4" dx="0.1" dy="-2.9">4</tspan></text><text x="590.75" y="384.1" text-anchor="middle" class="lb">Number of evaluations</text><text transform="translate(481.6,290) rotate(-90)" text-anchor="middle" class="lb">IGDX</text><text x="590.75" y="213.2" text-anchor="middle" class="tt">CMMOP14</text><text x="640.9" y="228.9" class="lg">C-MMEAWI</text><text x="640.9" y="236.2" class="lg">NSGAII</text><text x="640.9" y="243.5" class="lg">CMMODE</text><text x="640.9" y="250.8" class="lg">FCCMMEA</text><text x="640.9" y="258.1" class="lg">PPS-CMMO</text></g>
</svg>
</body></html>
